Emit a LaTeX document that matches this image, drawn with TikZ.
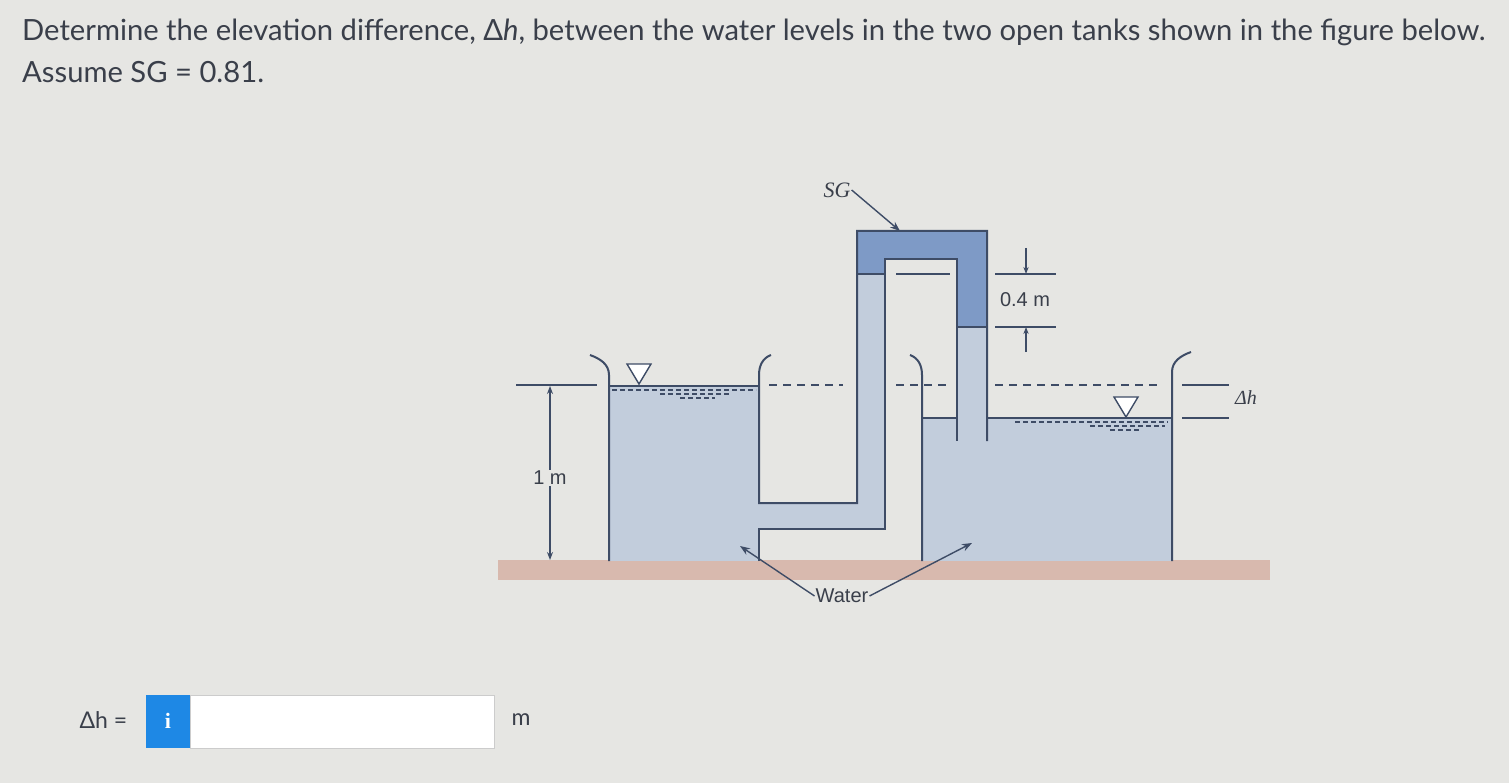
\documentclass[tikz,border=0pt]{standalone}
\usepackage{fontspec}
\setmainfont{Lato}
\newfontfamily\figfont{Liberation Sans}
\newfontfamily\serf{Liberation Serif}
\usetikzlibrary{arrows.meta}
\definecolor{bg}{HTML}{E6E6E3}
\definecolor{wat}{HTML}{C2CDDC}
\definecolor{sgc}{HTML}{7E9AC6}
\definecolor{edge}{HTML}{3E4C66}
\definecolor{gnd}{HTML}{D8B9AE}
\definecolor{txt}{HTML}{3A3F4A}
\definecolor{ibl}{HTML}{1E88E5}
\tikzset{wall/.style={draw=edge,line width=2pt},
 dim/.style={draw=edge,line width=1.2pt},
 lvl/.style={draw=edge,line width=1.4pt,dash pattern=on 8pt off 6pt},
 lbl/.style={font=\figfont\fontsize{20}{22}\selectfont,text=txt,inner sep=1pt},
 ptr/.style={draw=edge,line width=1.4pt,-{Stealth[length=10pt]}}}
\begin{document}
\begin{tikzpicture}[x=1pt,y=-1pt]
\fill[bg] (0,0) rectangle (1509,783);
\useasboundingbox (0,0) rectangle (1509,783);
\node[anchor=north west,text=txt,font=\fontsize{29.2}{42}\selectfont,align=left,inner sep=0] (q) at (22,19)
 {Determine the elevation difference, Δ\textit{h}, between the water levels in the two open tanks shown in the figure below.\\Assume SG = 0.81.};
% ground
\fill[gnd] (498,560) rectangle (1270,580);
% water and SG fluid
\fill[wat] (609,386) rectangle (759,561);
\fill[wat] (759,503) rectangle (885,529);
\fill[wat] (857,274) rectangle (885,529);
\fill[sgc] (857,231) rectangle (987,259);
\fill[sgc] (857,259) rectangle (885,274);
\fill[sgc] (957,259) rectangle (987,327);
\fill[wat] (957,327) rectangle (987,418);
\fill[wat] (922,418) rectangle (1172,561);
\draw[edge,line width=1.4pt] (857,274)--(885,274) (957,327)--(987,327);
% walls
\draw[wall] (590,355) to[out=-20,in=90] (609,375) -- (609,561);
\draw[wall] (771,355) to[out=200,in=90] (759,375) -- (759,503) -- (857,503) -- (857,231) -- (987,231) -- (987,441);
\draw[wall] (759,561) -- (759,529) -- (885,529) -- (885,259) -- (957,259) -- (957,441);
\draw[wall] (910,355) to[out=-20,in=90] (922,375) -- (922,561);
\draw[wall] (1191,352) to[out=200,in=90] (1172,372) -- (1172,561);
\draw[wall] (922,418)--(957,418) (987,418)--(1172,418);
\draw[wall] (609,386)--(759,386);
\draw[dim] (896,274)--(950,274);
% surface dashes
\foreach \y/\a/\b in {390/612/756,394/660/730,398/680/715}{\draw[edge,line width=1.2pt,dash pattern=on 5pt off 3pt] (\a,\y)--(\b,\y);}
\foreach \y/\a/\b in {422/1015/1168,426/1090/1165,430/1110/1140}{\draw[edge,line width=1.2pt,dash pattern=on 5pt off 3pt] (\a,\y)--(\b,\y);}
% level triangles
\draw[edge,line width=1.4pt,fill=white] (627,364)--(651,364)--(639,384)--cycle;
\draw[edge,line width=1.4pt,fill=white] (1114,397)--(1138,397)--(1126,417)--cycle;
% dashed reference level
\draw[lvl] (769,385)--(843,385) (896,385)--(950,385) (995,385)--(1162,385);
% 1 m dimension
\draw[dim] (516,385)--(597,385);
\coordinate (t1) at (550,386); \coordinate (b1) at (550,560);
\draw[dim,{Stealth[length=8pt]}-{Stealth[length=8pt]}] (t1)--(b1);
\node[lbl,fill=bg] (onem) at (550,478) {1 m};
% 0.4 m
\draw[dim] (995,274)--(1056,274) (995,327)--(1056,327);
\coordinate (a1) at (1026,248); \coordinate (a2) at (1026,274);
\coordinate (a3) at (1026,352); \coordinate (a4) at (1026,327);
\draw[dim,-{Stealth[length=7pt]}] (a1)--(a2);
\draw[dim,-{Stealth[length=7pt]}] (a3)--(a4);
\node[lbl] (fourm) at (1025,300) {0.4 m};
% delta h
\draw[dim] (1182,385)--(1229,385) (1182,418)--(1229,418);
\node[lbl,font=\serf\itshape\fontsize{20}{22}\selectfont] (dh) at (1246,398) {Δh};
% SG
\node[lbl,font=\serf\itshape\fontsize{22}{24}\selectfont] (sg) at (837,190) {SG};
\coordinate (sgt) at (900,231);
\draw[ptr] (sg.east) -- (sgt);
% Water
\node[lbl] (w) at (842,596) {Water};
\coordinate (wl) at (740,546); \coordinate (wr) at (972,543);
\draw[ptr] (w.west) -- (wl);
\draw[ptr] (w.east) -- (wr);
% answer
\node[text=txt,font=\fontsize{23}{24}\selectfont,anchor=west] (dhl) at (76,720) {Δh =};
\draw[fill=white,draw=gray!40] (190,695) rectangle (494,748);
\fill[ibl] (146,695) rectangle (190,748);
\node[text=white,font=\serf\bfseries\fontsize{22}{22}\selectfont] (info) at (168,721) {i};
\node[text=txt,font=\fontsize{23}{24}\selectfont] (unit) at (521,720) {m};
\end{tikzpicture}
\end{document}
